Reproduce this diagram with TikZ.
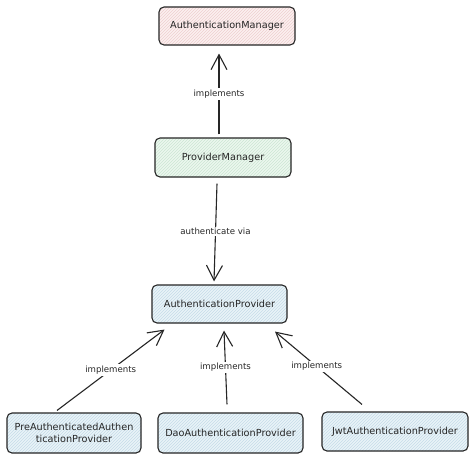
\documentclass[tikz,border=0pt]{standalone}
\usepackage{fontspec}
\setmainfont{DejaVu Sans}
\usetikzlibrary{arrows.meta,patterns}
\definecolor{ink}{HTML}{262626}
\definecolor{amfill}{HTML}{FCF0F0}
\definecolor{amhatch}{HTML}{EED0D0}
\definecolor{pmfill}{HTML}{ECF7EF}
\definecolor{pmhatch}{HTML}{CCE6D3}
\definecolor{apfill}{HTML}{E9F3F8}
\definecolor{aphatch}{HTML}{C6DCE9}
\tikzset{
  box/.style={draw=ink, line width=1.1pt, rounded corners=5pt, align=center,
    font=\fontsize{9.7}{11.5}\selectfont, text=ink, inner sep=2pt},
  pinkbox/.style={box, preaction={fill=amfill}, pattern=north east lines, pattern color=amhatch},
  greenbox/.style={box, preaction={fill=pmfill}, pattern=north east lines, pattern color=pmhatch},
  bluebox/.style={box, preaction={fill=apfill}, pattern=north east lines, pattern color=aphatch},
  conn/.style={draw=ink, line width=1.1pt, -{Straight Barb[length=15pt,width=16pt,line width=1.1pt]}},
  lbl/.style={fill=white, text=ink, font=\fontsize{8.6}{10}\selectfont, inner sep=1.5pt}
}
\begin{document}
\begin{tikzpicture}[x=1pt,y=-1pt]
\fill[white] (0,0) rectangle (474,459);
\useasboundingbox (0,0) rectangle (474,459);

\node[pinkbox, minimum width=136pt, minimum height=38pt] (am) at (227,26) {AuthenticationManager};
\node[greenbox, minimum width=136pt, minimum height=39pt] (pm) at (223,157.5) {ProviderManager};
\node[bluebox, minimum width=135pt, minimum height=38pt] (ap) at (219.5,304) {AuthenticationProvider};
\node[bluebox, minimum width=134pt, minimum height=40pt] (pre) at (74,433) {PreAuthenticatedAuthen\\ticationProvider};
\node[bluebox, minimum width=145pt, minimum height=40pt] (dao) at (230.5,433) {DaoAuthenticationProvider};
\node[bluebox, minimum width=146pt, minimum height=39pt] (jwt) at (395,431.5) {JwtAuthenticationProvider};

\draw[conn] ([xshift=-4pt,yshift=3pt]pm.north) -- node[lbl,pos=0.5] (l1) {implements} ([xshift=-8pt,yshift=-8pt]am.south);
\draw[conn] ([xshift=-6pt,yshift=-6pt]pm.south) -- node[lbl,pos=0.49] (l2) {authenticate via} ([xshift=-5.5pt,yshift=3pt]ap.north);
\draw[conn] ([xshift=-17pt,yshift=2pt]pre.north) -- node[lbl,pos=0.5] (l3) {implements} ([xshift=-55pt,yshift=-6pt]ap.south);
\draw[conn] ([xshift=-3.5pt,yshift=8pt]dao.north) -- node[lbl,pos=0.5] (l4) {implements} ([xshift=4.5pt,yshift=-7pt]ap.south);
\draw[conn] ([xshift=-33pt,yshift=7pt]jwt.north) -- node[lbl,pos=0.52] (l5) {implements} ([xshift=55.5pt,yshift=-8pt]ap.south);
\end{tikzpicture}
\end{document}
